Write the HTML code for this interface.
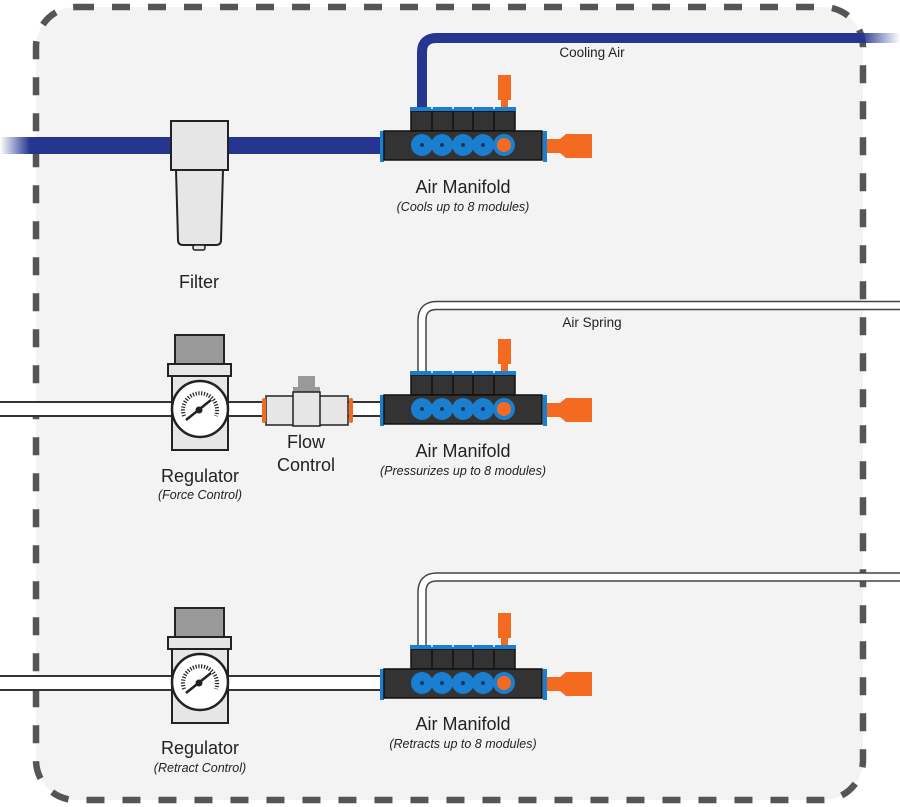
<!DOCTYPE html>
<html><head><meta charset="utf-8"><style>
html,body{margin:0;padding:0;background:#fff;}
svg{display:block;font-family:"Liberation Sans",sans-serif;}
</style></head><body>
<svg width="900" height="807" viewBox="0 0 900 807" xmlns="http://www.w3.org/2000/svg">
<defs>
<linearGradient id="fl" x1="0" x2="1" y1="0" y2="0"><stop offset="0" stop-color="#26358f" stop-opacity="0"/><stop offset="1" stop-color="#26358f"/></linearGradient>
<linearGradient id="fr" x1="0" x2="1" y1="0" y2="0"><stop offset="0" stop-color="#26358f"/><stop offset="1" stop-color="#26358f" stop-opacity="0"/></linearGradient>
<g id="man">
<rect x="380" y="131" width="4" height="31" fill="#1a7fd0"/>
<rect x="543" y="131" width="4" height="31" fill="#1a7fd0"/>
<path d="M547 139 H560 L566 134 H592 V158 H566 L560 153 H547 Z" fill="#f26b21"/>
<rect x="498" y="75" width="13" height="25" fill="#f26b21"/>
<rect x="501" y="99" width="7" height="9" fill="#f26b21"/>
<rect x="411" y="111" width="104" height="20" fill="#333" stroke="#111" stroke-width="1.5"/>
<path d="M432 111V131M453 111V131M473 111V131M494 111V131" stroke="#111" stroke-width="1.5"/>
<rect x="410" y="107" width="106" height="4" fill="#1a7fd0"/>
<path d="M432 107V109M453 107V109M473 107V109M494 107V109" stroke="#fff" stroke-width="1.5"/>
<rect x="384" y="131" width="158" height="29" fill="#333" stroke="#111" stroke-width="1.5"/>
<circle cx="422" cy="145" r="11" fill="#1a7fd0"/><circle cx="422" cy="145" r="2" fill="#1a3560"/>
<circle cx="442" cy="145" r="11" fill="#1a7fd0"/><circle cx="442" cy="145" r="2" fill="#1a3560"/>
<circle cx="463" cy="145" r="11" fill="#1a7fd0"/><circle cx="463" cy="145" r="2" fill="#1a3560"/>
<circle cx="483" cy="145" r="11" fill="#1a7fd0"/><circle cx="483" cy="145" r="2" fill="#1a3560"/>
<circle cx="504" cy="145" r="11" fill="#1a7fd0"/><circle cx="504" cy="145" r="7" fill="#f26b21"/>
</g>
<g id="reg">
<rect x="175" y="335" width="49" height="30" fill="#999" stroke="#222" stroke-width="2"/>
<rect x="172" y="376" width="56" height="74" fill="#e6e6e6" stroke="#222" stroke-width="2"/>
<rect x="168" y="364" width="63" height="12" fill="#e6e6e6" stroke="#222" stroke-width="2"/>
<circle cx="200" cy="409" r="28" fill="#fff" stroke="#222" stroke-width="2.5"/>
<path d="M184 416 A17 17 0 1 1 216 416" fill="none" stroke="#222" stroke-width="4" stroke-dasharray="1.2 1.6"/>
<path d="M186 420 L211 400" stroke="#222" stroke-width="2.5"/>
<circle cx="199" cy="410" r="3.5" fill="#222"/>
</g>
</defs>
<rect x="36" y="7" width="827" height="793" rx="40" fill="#f3f3f3" stroke="#555" stroke-width="6.5" stroke-dasharray="18 18"/>

<!-- Row 1 -->
<rect x="0" y="137" width="30" height="17" fill="url(#fl)"/>
<rect x="30" y="137" width="352" height="17" fill="#26358f"/>
<path d="M422 108 V52 Q422 38 437 38 H860" fill="none" stroke="#26358f" stroke-width="10"/>
<rect x="860" y="33" width="40" height="10" fill="url(#fr)"/>
<rect x="171" y="121" width="57" height="49" fill="#e6e6e6" stroke="#222" stroke-width="2"/>
<path d="M176 170 L178 240 Q178 245 183 245 H216 Q221 245 221 240 L223 170 Z" fill="#e6e6e6" stroke="#222" stroke-width="2"/>
<rect x="193" y="245" width="12" height="5" rx="2" fill="#e6e6e6" stroke="#222" stroke-width="1.5"/>
<use href="#man"/>
<text x="199" y="288" font-size="18" text-anchor="middle" fill="#222">Filter</text>
<text x="463" y="193" font-size="18" text-anchor="middle" fill="#222">Air Manifold</text>
<text x="463" y="211" font-size="12.5" font-style="italic" text-anchor="middle" fill="#222">(Cools up to 8 modules)</text>
<text x="592" y="57" font-size="13.5" text-anchor="middle" fill="#222">Cooling Air</text>

<!-- Row 2 -->
<rect x="-2" y="402" width="384" height="14" fill="#fff" stroke="#333" stroke-width="2"/>
<path d="M422 374 V320 Q422 305.5 437 305.5 H902" fill="none" stroke="#444" stroke-width="9.5"/>
<path d="M422 376 V320 Q422 305.5 437 305.5 H902" fill="none" stroke="#fff" stroke-width="6.5"/>
<use href="#reg"/>
<rect x="298" y="376" width="17" height="12" fill="#999"/>
<rect x="293" y="387" width="27" height="6" fill="#999"/>
<rect x="266" y="396" width="82" height="29" fill="#e6e6e6" stroke="#222" stroke-width="1.5"/>
<rect x="293" y="392" width="27" height="34" fill="#e6e6e6" stroke="#222" stroke-width="1.5"/>
<rect x="262" y="398" width="4" height="25" rx="2" fill="#f26b21"/>
<rect x="349" y="398" width="4" height="25" rx="2" fill="#f26b21"/>
<use href="#man" y="264"/>
<text x="200" y="482" font-size="18" text-anchor="middle" fill="#222">Regulator</text>
<text x="200" y="499" font-size="12.5" font-style="italic" text-anchor="middle" fill="#222">(Force Control)</text>
<text x="306" y="448" font-size="18" text-anchor="middle" fill="#222">Flow</text>
<text x="306" y="471" font-size="18" text-anchor="middle" fill="#222">Control</text>
<text x="463" y="457" font-size="18" text-anchor="middle" fill="#222">Air Manifold</text>
<text x="463" y="475" font-size="12.5" font-style="italic" text-anchor="middle" fill="#222">(Pressurizes up to 8 modules)</text>
<text x="592" y="327" font-size="13.5" text-anchor="middle" fill="#222">Air Spring</text>

<!-- Row 3 -->
<rect x="-2" y="676" width="384" height="14" fill="#fff" stroke="#333" stroke-width="2"/>
<path d="M422 646 V592 Q422 577 437 577 H902" fill="none" stroke="#444" stroke-width="9.5"/>
<path d="M422 648 V592 Q422 577 437 577 H902" fill="none" stroke="#fff" stroke-width="6.5"/>
<use href="#reg" y="273"/>
<use href="#man" y="538"/>
<text x="200" y="754" font-size="18" text-anchor="middle" fill="#222">Regulator</text>
<text x="200" y="772" font-size="12.5" font-style="italic" text-anchor="middle" fill="#222">(Retract Control)</text>
<text x="463" y="730" font-size="18" text-anchor="middle" fill="#222">Air Manifold</text>
<text x="463" y="748" font-size="12.5" font-style="italic" text-anchor="middle" fill="#222">(Retracts up to 8 modules)</text>
</svg>
</body></html>
